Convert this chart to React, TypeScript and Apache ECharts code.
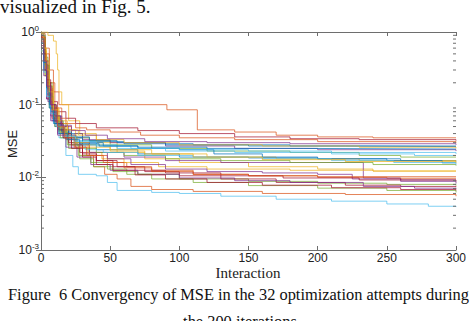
import React, { useEffect, useRef } from "react";
import * as echarts from "echarts";

// Iteration / MSE breakpoints (value holds until the next breakpoint)
const s0 = [[0,0.85],[2,0.45],[4,0.2],[6,0.11],[9,0.07],[14,0.045],[22,0.035],[35,0.031],[60,0.029],[110,0.028],[180,0.027],[300,0.027]];
const s1 = [[0,0.95],[3,0.6],[6,0.3],[9,0.15],[13,0.1],[91,0.085],[113,0.045],[140,0.042],[170,0.038],[200,0.036],[240,0.035],[300,0.035]];
const s2 = [[0,1.0],[5,0.9],[9,0.75],[11,0.5],[12,0.3],[13,0.15],[15,0.1],[20,0.06],[28,0.04],[40,0.03],[55,0.022],[75,0.018],[100,0.016],[150,0.014],[200,0.013],[240,0.0122],[300,0.0121]];
const s3 = [[0,0.7],[2,0.3],[4,0.12],[7,0.06],[12,0.04],[20,0.028],[35,0.022],[60,0.019],[90,0.017],[130,0.016],[233,0.0098],[260,0.0092],[300,0.009]];
const s4 = [[0,0.8],[3,0.35],[5,0.15],[8,0.08],[12,0.055],[18,0.04],[30,0.032],[50,0.028],[80,0.025],[120,0.023],[180,0.022],[230,0.02],[260,0.019],[300,0.019]];
const s5 = [[0,0.9],[3,0.4],[6,0.15],[9,0.07],[13,0.035],[18,0.02],[23,0.014],[27,0.011],[40,0.0105],[48,0.0085],[55,0.0066],[80,0.0062],[100,0.006],[130,0.0055],[170,0.005],[210,0.0047],[250,0.0043],[280,0.004],[300,0.0039]];
const s6 = [[0,0.6],[2,0.35],[5,0.18],[8,0.11],[12,0.08],[18,0.065],[25,0.055],[40,0.048],[70,0.044],[100,0.04],[140,0.036],[180,0.034],[230,0.033],[300,0.032]];
const s7 = [[0,0.75],[2,0.4],[4,0.18],[7,0.09],[10,0.05],[16,0.035],[26,0.028],[40,0.024],[70,0.021],[100,0.019],[150,0.0185],[200,0.018],[260,0.017],[300,0.0166]];
const s8 = [[0,0.85],[3,0.5],[6,0.2],[10,0.09],[15,0.05],[22,0.03],[30,0.02],[38,0.014],[46,0.011],[55,0.0095],[65,0.0075],[80,0.0068],[110,0.0064],[160,0.006],[220,0.0058],[300,0.0055]];
const s9 = [[0,0.55],[3,0.25],[6,0.1],[10,0.06],[15,0.045],[25,0.035],[35,0.028],[50,0.024],[80,0.021],[120,0.019],[170,0.018],[230,0.017],[300,0.0166]];
const s10 = [[0,0.9],[2,0.5],[4,0.25],[6,0.12],[9,0.07],[14,0.05],[20,0.04],[30,0.033],[50,0.03],[90,0.027],[140,0.025],[200,0.024],[300,0.023]];
const s11 = [[0,0.65],[3,0.25],[6,0.09],[10,0.05],[14,0.035],[20,0.025],[28,0.018],[38,0.014],[52,0.012],[70,0.011],[100,0.0095],[150,0.0088],[200,0.0083],[250,0.008],[300,0.0077]];
const s12 = [[0,0.8],[2,0.45],[4,0.2],[7,0.1],[11,0.06],[16,0.04],[24,0.032],[35,0.028],[55,0.025],[90,0.023],[140,0.022],[210,0.021],[270,0.02],[300,0.02]];
const s13 = [[0,0.7],[3,0.3],[6,0.12],[9,0.07],[13,0.045],[20,0.03],[28,0.022],[40,0.017],[55,0.014],[75,0.012],[100,0.0105],[130,0.0095],[170,0.0085],[220,0.0078],[260,0.0075],[300,0.0073]];
const s14 = [[0,0.95],[2,0.5],[4,0.22],[6,0.1],[9,0.06],[13,0.045],[20,0.035],[30,0.03],[45,0.027],[70,0.025],[100,0.024],[125,0.021],[160,0.019],[200,0.018],[250,0.017],[290,0.0158],[300,0.0155]];
const s15 = [[0,0.6],[2,0.3],[5,0.12],[8,0.065],[12,0.045],[18,0.033],[25,0.026],[35,0.02],[48,0.016],[62,0.014],[80,0.0125],[110,0.011],[150,0.0105],[200,0.01],[250,0.0097],[300,0.0095]];
const s16 = [[0,0.8],[3,0.4],[6,0.18],[9,0.09],[13,0.055],[19,0.038],[26,0.028],[34,0.022],[44,0.018],[60,0.016],[85,0.014],[120,0.013],[180,0.0125],[240,0.0122],[300,0.0121]];
const s17 = [[0,0.5],[2,0.25],[4,0.12],[7,0.07],[11,0.05],[17,0.038],[25,0.03],[35,0.022],[48,0.018],[65,0.015],[90,0.013],[120,0.012],[160,0.0115],[200,0.011],[225,0.0095],[260,0.0088],[300,0.0082]];
const s18 = [[0,0.9],[3,0.45],[5,0.2],[8,0.1],[11,0.06],[16,0.04],[22,0.03],[30,0.025],[40,0.022],[60,0.02],[90,0.018],[130,0.017],[180,0.016],[240,0.015],[300,0.0145]];
const s19 = [[0,0.7],[2,0.35],[5,0.15],[8,0.08],[12,0.05],[17,0.035],[24,0.028],[32,0.024],[45,0.022],[70,0.02],[110,0.019],[160,0.018],[210,0.017],[255,0.016],[300,0.015]];
const s20 = [[0,0.85],[2,0.45],[4,0.2],[7,0.1],[10,0.06],[15,0.04],[22,0.028],[30,0.021],[40,0.017],[52,0.014],[68,0.0125],[90,0.0115],[130,0.0105],[175,0.0098],[230,0.0092],[300,0.0088]];
const s21 = [[0,0.6],[2,0.3],[4,0.14],[7,0.08],[10,0.055],[15,0.042],[22,0.036],[35,0.032],[55,0.03],[90,0.028],[150,0.027],[220,0.0265],[300,0.026]];
const s22 = [[0,0.75],[3,0.35],[5,0.16],[8,0.09],[12,0.065],[18,0.055],[25,0.048],[33,0.045],[50,0.042],[72,0.038],[100,0.035],[140,0.033],[200,0.031],[300,0.03]];
const s23 = [[0,0.9],[2,0.55],[4,0.25],[6,0.12],[9,0.07],[13,0.048],[18,0.036],[25,0.03],[35,0.026],[50,0.023],[75,0.021],[110,0.019],[160,0.0175],[220,0.0165],[300,0.0158]];
const s24 = [[0,0.65],[2,0.3],[5,0.11],[8,0.06],[12,0.038],[18,0.026],[26,0.019],[36,0.015],[50,0.0125],[70,0.011],[100,0.0098],[140,0.009],[180,0.0085],[233,0.0075],[270,0.0071],[300,0.0069]];
const s25 = [[0,0.8],[3,0.35],[6,0.13],[9,0.07],[13,0.042],[19,0.028],[27,0.02],[36,0.016],[48,0.013],[62,0.011],[80,0.0095],[110,0.0085],[150,0.0077],[200,0.0071],[250,0.0066],[300,0.0062]];
const s26 = [[0,0.55],[2,0.28],[4,0.13],[7,0.075],[11,0.05],[17,0.037],[25,0.031],[40,0.027],[65,0.025],[100,0.024],[150,0.023],[210,0.022],[300,0.021]];
const s27 = [[0,0.9],[2,0.5],[4,0.22],[7,0.1],[11,0.055],[16,0.035],[22,0.025],[30,0.019],[40,0.015],[52,0.0125],[68,0.0108],[90,0.0095],[120,0.0085],[160,0.0078],[210,0.0072],[260,0.0068],[300,0.0066]];
const s28 = [[0,0.7],[2,0.38],[4,0.17],[6,0.09],[9,0.055],[13,0.04],[19,0.033],[28,0.029],[42,0.027],[70,0.026],[120,0.025],[190,0.0245],[300,0.024]];
const s29 = [[0,0.85],[3,0.4],[5,0.17],[8,0.085],[12,0.05],[17,0.035],[24,0.026],[33,0.02],[45,0.016],[60,0.0135],[80,0.012],[110,0.011],[150,0.0105],[200,0.0102],[300,0.01]];
const s30 = [[0,0.95],[2,0.6],[4,0.3],[6,0.15],[9,0.085],[13,0.06],[19,0.045],[27,0.038],[40,0.033],[60,0.03],[100,0.028],[160,0.027],[230,0.026],[300,0.025]];
const s31 = [[0,0.8],[2,0.4],[4,0.18],[7,0.1],[10,0.07],[15,0.052],[22,0.044],[32,0.038],[48,0.034],[75,0.031],[120,0.03],[180,0.029],[300,0.028]];

const runs = [s0,s1,s2,s3,s4,s5,s6,s7,s8,s9,s10,s11,s12,s13,s14,s15,s16,s17,s18,s19,s20,s21,s22,s23,s24,s25,s26,s27,s28,s29,s30,s31];

const xTicks = [0, 50, 100, 150, 200, 250, 300];
const yDecades = [0.001, 0.01, 0.1, 1];
const minorMultipliers = [2, 3, 4, 5, 6, 7, 8, 9];

const palette = ["#0072BD", "#D95319", "#EDB120", "#7E2F8E", "#77AC30", "#4DBEEE", "#A2142F"];

const minorTicks: number[][] = [];
for (let d = 0; d < yDecades.length - 1; d++) {
  for (const m of minorMultipliers) minorTicks.push([0, yDecades[d] * m]);
}

const AXIS = "#6e6e6e";
const SANS = "Liberation Sans, Arial, sans-serif";
const SERIF = "Liberation Serif, Times New Roman, serif";

export default function App() {
  const ref = useRef<HTMLDivElement>(null);
  useEffect(() => {
    if (!ref.current) return;
    const chart = echarts.init(ref.current, null, { renderer: "svg" });
    const lineSeries = runs.map((r, i) => ({
      type: "line",
      data: r,
      step: "end",
      showSymbol: false,
      symbol: "none",
      xAxisIndex: 0,
      yAxisIndex: 0,
      lineStyle: { width: 1, color: palette[i % palette.length], opacity: 0.72 },
      z: 2,
    }));
    chart.setOption({
      animation: false,
      backgroundColor: "#fff",
      grid: { left: 41, right: 18, top: 32, bottom: 71, containLabel: false },
      xAxis: [
        {
          type: "value", min: xTicks[0], max: xTicks[xTicks.length - 1], interval: 50,
          axisLine: { show: true, lineStyle: { color: AXIS, width: 1 } },
          axisTick: { show: true, inside: true, length: 4, lineStyle: { color: AXIS } },
          axisLabel: { color: "#222", fontSize: 12, fontFamily: SANS, margin: 2 },
          splitLine: { show: false },
        },
        {
          type: "value", position: "top", min: xTicks[0], max: xTicks[xTicks.length - 1], interval: 50,
          axisLine: { show: true, lineStyle: { color: AXIS, width: 1 } },
          axisTick: { show: true, inside: true, length: 4, lineStyle: { color: AXIS } },
          axisLabel: { show: false },
          splitLine: { show: false },
        },
      ],
      yAxis: [
        {
          type: "log", logBase: 10, min: yDecades[0], max: yDecades[yDecades.length - 1],
          axisLine: { show: true, lineStyle: { color: AXIS, width: 1 } },
          axisTick: { show: true, inside: true, length: 5, lineStyle: { color: AXIS } },
          axisLabel: {
            margin: 2,
            formatter: (v: number) => `{b|10}{s|${Math.round(Math.log10(v))}}`,
            rich: {
              b: { fontSize: 12, fontFamily: SANS, color: "#222" },
              s: { fontSize: 8, fontFamily: SANS, color: "#222", padding: [0, 0, 8, 0] },
            },
          },
          splitLine: { show: false },
        },
        {
          type: "log", logBase: 10, position: "right", min: yDecades[0], max: yDecades[yDecades.length - 1],
          axisLine: { show: true, lineStyle: { color: AXIS, width: 1 } },
          axisTick: { show: true, inside: true, length: 5, lineStyle: { color: AXIS } },
          axisLabel: { show: false },
          splitLine: { show: false },
        },
      ],
      series: [
        ...lineSeries,
        {
          type: "custom",
          xAxisIndex: 0,
          yAxisIndex: 0,
          silent: true,
          z: 5,
          clip: false,
          data: minorTicks,
          renderItem: (params: any, api: any) => {
            const v = api.value(1);
            const l = api.coord([xTicks[0], v]);
            const r = api.coord([xTicks[xTicks.length - 1], v]);
            const st = { stroke: AXIS, lineWidth: 1 };
            return {
              type: "group",
              children: [
                { type: "line", shape: { x1: l[0], y1: l[1], x2: l[0] + 3, y2: l[1] }, style: st },
                { type: "line", shape: { x1: r[0] - 3, y1: r[1], x2: r[0], y2: r[1] }, style: st },
              ],
            };
          },
        },
      ],
      graphic: [
        { type: "text", left: 0, top: -3, style: { text: "visualized in Fig. 5.", font: `19px ${SERIF}`, fill: "#111" } },
        { type: "text", x: 12, y: 144, rotation: Math.PI / 2, style: { text: "MSE", font: `13px ${SANS}`, fill: "#222", textAlign: "center", textVerticalAlign: "middle" } },
        { type: "text", x: 248, y: 273, style: { text: "Interaction", font: `15px ${SERIF}`, fill: "#222", textAlign: "center", textVerticalAlign: "middle" } },
        { type: "text", x: 8, y: 294, style: { text: "Figure  6 Convergency of MSE in the 32 optimization attempts during", font: `16.4px ${SERIF}`, fill: "#111", textAlign: "left", textVerticalAlign: "middle" } },
        { type: "text", x: 240, y: 321, style: { text: "the 300 iterations", font: `16.4px ${SERIF}`, fill: "#111", textAlign: "center", textVerticalAlign: "middle" } },
      ],
    });
    return () => chart.dispose();
  }, []);
  return (
    <div
      ref={ref}
      style={{ position: "fixed", left: 0, top: 0, width: 474, height: 321, background: "#fff" }}
    />
  );
}
